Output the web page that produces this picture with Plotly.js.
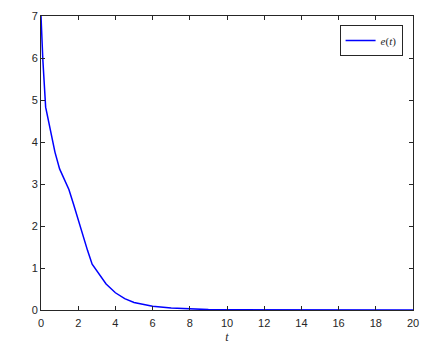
<!DOCTYPE html>
<html>
<head>
<meta charset="utf-8">
<script src="https://cdn.plot.ly/plotly-3.0.1.min.js"></script>
<style>html,body{margin:0;padding:0;background:#fff;}#chart{width:441px;height:351px;}</style>
</head>
<body>
<div id="chart"></div>
<script>
const tValues = [0, 0.1, 0.25, 0.5, 0.75, 1.0, 1.25, 1.5, 1.75, 2.0, 2.25, 2.5, 2.75, 3.0, 3.5, 4.0, 4.5, 5.0, 5.5, 6, 7, 8, 9, 10, 12, 14, 16, 18, 20];
const eValues = [7, 5.95, 4.83, 4.27, 3.76, 3.36, 3.12, 2.87, 2.52, 2.14, 1.78, 1.42, 1.09, 0.94, 0.62, 0.41, 0.27, 0.18, 0.13, 0.09, 0.045, 0.02, 0.01, 0.005, 0.002, 0.001, 0, 0, 0];
const xTicks = [0, 2, 4, 6, 8, 10, 12, 14, 16, 18, 20];
const yTicks = [0, 1, 2, 3, 4, 5, 6, 7];
const seriesName = '<i>e</i>(<i>t</i>)';
const xLabel = '<i>t</i>';

const axisCommon = {
  showgrid: false, zeroline: false, showline: true, linecolor: '#262626', linewidth: 1,
  mirror: 'ticks', ticks: 'inside', ticklen: 4, tickcolor: '#262626', tickwidth: 1,
  tickfont: {family: 'Liberation Sans, Arial, sans-serif', size: 11, color: '#262626'}
};

const trace = {
  x: tValues, y: eValues, type: 'scatter', mode: 'lines', name: seriesName,
  line: {color: '#0000ff', width: 1.5}
};

const layout = {
  width: 441, height: 351,
  margin: {l: 41, r: 28, t: 16, b: 41},
  paper_bgcolor: '#ffffff', plot_bgcolor: '#ffffff',
  showlegend: true,
  legend: {
    x: 0.972, y: 0.969, xanchor: 'right', yanchor: 'top',
    bgcolor: '#ffffff', bordercolor: '#262626', borderwidth: 1,
    font: {family: 'Liberation Serif, Times New Roman, serif', size: 11, color: '#262626'},
    tracegroupgap: 0
  },
  xaxis: Object.assign({}, axisCommon, {
    range: [0, 20], tickvals: xTicks, ticktext: xTicks.map(String),
    ticklabelstandoff: 3,
    title: {text: xLabel, standoff: 4, font: {family: 'Liberation Serif, Times New Roman, serif', size: 12, color: '#262626'}}
  }),
  yaxis: Object.assign({}, axisCommon, {
    range: [0, 7], tickvals: yTicks, ticktext: yTicks.map(String)
  })
};

Plotly.newPlot('chart', [trace], layout, {displayModeBar: false, staticPlot: true});
</script>
</body>
</html>
